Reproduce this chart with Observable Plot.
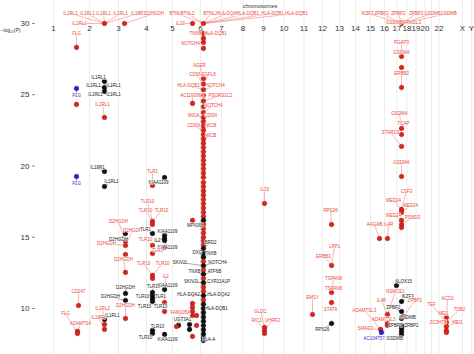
<!DOCTYPE html>
<html><head><meta charset="utf-8">
<script src="https://cdn.jsdelivr.net/npm/d3@7"></script>
<script src="https://cdn.jsdelivr.net/npm/@observablehq/plot@0.6"></script>
<style>body{margin:0;background:#fff}svg{display:block}</style>
</head><body><div id="chart"></div>
<script>
// chromosome tick labels and cumulative start positions (plot genome units)
const chromLabels = ["1","2","3","4","5","6","7","8","9","10","11","12","13","14","15","16","17","18","19","20","22","X","Y"];
const chromStarts = [0,254,458,655,838,1035,1183,1335,1479,1623,1764,1894,2014,2127,2232,2331,2419,2489,2553,2616,2715,2880,2944];
const chr21Start = 2662;
const yTicks = [10,15,20,25,30];

// SNPs: [cumulative position, -log10(P) (capped at 30), group]
const snps = [
 [162,28.32,"r"],[162,25.44,"b"],[162,24.32,"r"],[162,19.26,"b"],[176,10.21,"r"],[169,8.40,"r"],[169,8.25,"r"],
 [359,30,"r"],[359,25.93,"k"],[359,25.51,"k"],[359,25.23,"k"],[359,23.40,"r"],[359,19.61,"k"],[359,18.56,"k"],[359,9.23,"k"],[359,8.88,"r"],[359,8.53,"r"],
 [500,30,"r"],
 [507,15.26,"k"],[507,14.70,"r"],[507,14.42,"r"],[507,13.79,"r"],[507,12.53,"r"],[507,11.05,"k"],[507,10.56,"k"],[507,9.30,"r"],
 [782,19.19,"k"],[697,18.63,"r"],[697,16.11,"r"],[697,15.90,"r"],[697,15.26,"k"],[782,15.12,"k"],[782,14.91,"k"],[782,14.77,"k"],[697,14.42,"r"],[782,14.28,"r"],[697,13.86,"r"],[697,12.32,"r"],[697,12.11,"r"],[782,11.33,"k"],[697,11.12,"k"],[697,10.91,"k"],[697,10.70,"k"],[697,10.49,"k"],[782,10.42,"r"],[782,9.79,"r"],[697,8.46,"k"],[697,8.25,"k"],[782,8.18,"k"],
 [979,30,"r"],[979,24.39,"r"],[979,16.18,"r"],[979,10.35,"r"],[979,10.07,"r"],[979,9.79,"r"],[979,9.51,"r"],[1007,9.51,"r"],[958,8.88,"k"],[958,8.53,"k"],[979,8.04,"r"],[1007,8.81,"r"],[880,8.81,"k"],[866,8.74,"r"],
 [1056,30,"r"],[1056,29.30,"r"],[1056,28.95,"r"],[1056,28.67,"r"],[1056,28.25,"r"],
 [1056,26.14,"r"],[1056,25.75,"r"],[1056,25.35,"r"],[1056,24.95,"r"],[1056,24.55,"r"],[1056,24.15,"r"],[1056,23.75,"r"],[1056,23.40,"r"],[1056,23.10,"r"],[1056,22.80,"r"],[1056,22.50,"r"],[1056,22.20,"r"],[1056,21.90,"r"],[1056,21.60,"r"],[1056,21.30,"r"],[1056,21.00,"r"],[1056,20.70,"r"],[1056,20.40,"r"],[1056,20.10,"r"],[1056,19.80,"r"],[1056,19.50,"r"],[1056,19.20,"r"],
 [1056,18.84,"r"],[1056,18.55,"r"],[1056,18.25,"r"],[1056,17.95,"r"],[1056,17.65,"r"],[1056,17.35,"r"],[1056,17.05,"r"],[1056,16.75,"r"],[1056,16.45,"r"],[1056,16.18,"k"],[1056,15.90,"r"],[1056,15.60,"r"],[1056,15.30,"r"],[1056,15.00,"r"],[1056,14.75,"r"],
 [1056,14.45,"r"],[1056,14.20,"k"],[1056,13.90,"k"],[1056,13.60,"k"],[1056,13.30,"r"],[1056,13.00,"k"],[1056,12.70,"r"],[1056,12.40,"k"],[1056,12.10,"r"],[1056,11.80,"k"],[1056,11.50,"r"],[1056,11.20,"r"],[1056,10.90,"k"],[1056,10.60,"r"],[1056,10.30,"k"],[1056,10.00,"k"],[1056,9.70,"k"],[1056,9.40,"k"],[1056,9.10,"k"],[1056,8.80,"k"],[1056,8.50,"k"],[1056,8.20,"k"],[1056,7.95,"k"],[1056,7.75,"k"],
 [1486,17.37,"r"],[1486,8.67,"r"],[1486,8.46,"r"],[1486,8.25,"r"],
 [1824,9.58,"r"],
 [1958,15.89,"r"],[1958,13.02,"r"],[1958,11.12,"r"],[1958,10.42,"r"],[1958,8.95,"k"],
 [2296,14.91,"r"],[2352,14.91,"r"],[2415,11.61,"k"],[2352,9.58,"r"],[2451,10.49,"k"],[2451,9.79,"k"],[2451,9.30,"k"],[2465,9.44,"r"],[2352,8.95,"r"],[2352,8.81,"r"],[2303,8.53,"r"],[2310,8.32,"b"],[2451,8.81,"k"],[2451,8.60,"k"],[2451,8.39,"k"],[2451,8.18,"k"],
 [2451,30,"r"],[2451,27.68,"r"],[2451,26.91,"r"],[2451,25.51,"r"],[2451,22.63,"r"],[2451,22.21,"r"],[2451,21.37,"r"],[2451,19.26,"r"],[2451,16.95,"r"],[2451,16.74,"r"],[2451,16.18,"r"],[2451,15.89,"r"],[2451,15.68,"r"],
 [2767,9.37,"r"],[2767,9.02,"r"],[2767,8.74,"r"],[2767,8.46,"r"],[2767,8.32,"r"]
];

// gene labels: [gene, label position, label -log10(P), SNP position, SNP -log10(P), group]
const geneLabels = [
 ["IL1RL1",120,30.70,359,30,"r"],["IL1RL1",239,30.70,359,30,"r"],["IL1RL1",352,30.70,359,30,"r"],["IL1RL1",472,30.70,359,30,"r"],["IL18R1",599,30.70,359,30,"r"],["D2HGDH",712,30.70,500,30,"r"],["IL1RL1",183,30.0,359,30,"r"],
 ["IL13",894,30.0,979,30,"r"],
 ["BTNL2",866,30.70,1056,30,"r"],["BTNL2",944,30.70,1056,30,"r"],["BTNL2",1106,30.70,1056,30,"r"],["HLA-DQA1",1225,30.70,1056,30,"r"],["HLA-DQB1",1366,30.70,1056,30,"r"],["HLA-DQB1",1542,30.70,1056,30,"r"],["HLA-DQB1",1711,30.70,1056,30,"r"],
 ["TNXB",1000,29.30,1056,29.30,"r"],["HLA-DQB1",1141,29.30,1056,29.30,"r"],["NOTCH4",965,28.60,1056,28.67,"r"],
 ["IKZF3",2211,30.70,2451,30,"r"],["ZPBP2",2310,30.70,2451,30,"r"],["ZPBP2",2429,30.70,2451,30,"r"],["ZPBP2",2556,30.70,2451,30,"r"],["GSDMB",2669,30.70,2451,30,"r"],["GSDMB",2782,30.70,2451,30,"r"],["GSDMB",2400,30.07,2451,30,"r"],["ORMDL3",2522,30.07,2451,30,"r"],
 ["FLG",162,29.30,162,28.32,"r"],["FLG",162,24.95,162,25.44,"b"],["FLG",162,18.77,162,19.26,"b"],["CD247",176,11.19,176,10.21,"r"],["FLG",85,9.65,169,8.25,"r"],["ADAMTS4",190,8.95,169,8.25,"r"],
 ["IL1RL1",317,26.21,359,25.93,"k"],["IL1RL1",282,25.65,359,25.51,"k"],["IL1RL1",423,25.65,359,25.51,"k"],["IL1RL1",296,25.02,359,25.23,"k"],["IL1RL1",423,25.02,359,25.23,"k"],["IL1RL1",345,24.32,359,23.40,"r"],["IL18R1",310,19.89,359,19.61,"k"],["IL1RL1",408,18.91,359,18.56,"k"],["IL1RL2",345,10.00,359,8.88,"r"],["IL1RL1",415,9.51,359,9.23,"k"],["IL18R1",317,9.37,359,8.53,"r"],
 ["D2HGDH",458,16.11,507,14.70,"r"],["D2HGDH",556,15.47,507,14.42,"r"],["D2HGDH",373,14.56,507,14.42,"r"],["D2HGDH",458,14.84,507,15.26,"k"],["D2HGDH",493,13.44,507,12.53,"r"],["D2HGDH",507,11.47,507,11.05,"k"],["D2HGDH",401,10.84,507,10.56,"k"],["D2HGDH",507,10.21,507,9.30,"r"],
 ["TLR1",697,19.61,697,18.63,"r"],["KIAA1109",739,18.84,782,19.19,"k"],["TLR10",662,17.51,697,16.11,"r"],["TLR10",648,16.88,697,16.11,"r"],["TLR10",761,16.88,697,16.11,"r"],["TLR1",648,15.54,697,15.26,"k"],["KIAA1109",803,15.40,782,15.12,"k"],["IL2",732,14.77,782,14.91,"k"],["TLR10",648,14.84,697,14.42,"r"],["KIAA1109",803,14.28,782,14.77,"k"],["TLR1",732,14.07,697,13.86,"r"],["TLR10",634,13.16,697,12.32,"r"],["TLR10",768,13.16,697,12.32,"r"],["IL2",789,12.25,782,10.42,"r"],["TLR10",704,11.54,697,11.12,"k"],["KIAA1109",803,11.61,782,11.33,"k"],["TLR10",627,10.84,697,10.91,"k"],["TLR1",753,10.84,697,10.70,"k"],["TLR10",641,10.14,697,10.49,"k"],["TLR10",753,10.14,697,10.49,"k"],["TLR10",732,8.74,697,8.46,"k"],["TLR10",648,7.96,697,8.25,"k"],["KIAA1109",803,7.82,782,8.18,"k"],
 ["AC119396.1",979,24.95,979,24.39,"r"],["FAM105A",894,9.72,866,8.74,"r"],["UGT3A1",908,9.23,880,8.81,"k"],["MPIG6B",1000,15.82,1056,16.18,"k"],
 ["AGER",1028,27.05,1056,26.14,"r"],["CDSN",1000,26.42,1056,25.75,"r"],["EGFL8",1092,26.42,1056,25.75,"r"],["HLA-DQB1",951,25.65,1056,25.35,"r"],["NOTCH4",1141,25.65,1056,25.35,"r"],["PSORS1C1",1176,24.95,1056,24.55,"r"],["NOTCH4",1127,24.25,1056,23.75,"r"],["MICA",986,23.54,1056,23.40,"r"],["CDSN",1106,23.54,1056,23.40,"r"],["CDSN",986,22.84,1056,22.50,"r"],["MICB",1106,22.84,1056,22.50,"r"],["MICB",1106,22.14,1056,21.80,"r"],
 ["BRD2",1106,14.63,1056,14.20,"k"],["DXO",1014,13.93,1056,13.60,"k"],["TNXB",1106,13.86,1056,13.60,"k"],["SKIV2L",894,13.23,1056,13.00,"k"],["NOTCH4",1155,13.23,1056,13.00,"k"],["TNXB",993,12.60,1056,12.40,"k"],["ATF6B",1134,12.60,1056,12.40,"k"],["SKIV2L",972,11.89,1056,11.80,"k"],["CYP21A1P",1162,11.89,1056,11.80,"k"],["HLA-DQA2",951,10.98,1056,10.90,"k"],["HLA-DQA2",1162,10.98,1056,10.90,"k"],["HLA-DQB1",1148,10.00,1056,10.00,"k"],["HLA-A",1092,7.82,1056,7.95,"k"],
 ["IL33",1486,18.35,1486,17.37,"r"],["GLDC",1458,9.79,1486,8.67,"r"],["RIC1",1430,9.16,1486,8.46,"r"],["UHRF2",1542,9.16,1486,8.46,"r"],
 ["EMSY",1824,10.77,1824,9.58,"r"],["RPS26",1951,16.88,1958,15.89,"r"],["LRP1",1979,14.35,1958,13.02,"r"],["ERBB3",1901,13.65,1958,13.02,"r"],["TSPAN8",1972,12.11,1958,11.12,"r"],["TSPAN8",1972,11.40,1958,11.12,"r"],["STAT6",1951,9.93,1958,10.42,"r"],["RPS26",1894,8.53,1958,8.95,"k"],
 ["AAGAB",2260,15.89,2296,14.91,"r"],["IL4R",2359,15.89,2352,14.91,"r"],["ALOX15",2465,11.89,2415,11.61,"k"],["NSMCE1",2408,11.19,2352,9.58,"r"],["IL4R",2310,10.56,2352,9.58,"r"],["IKZF3",2493,10.84,2451,10.49,"k"],["ZPBP2",2545,10.56,2465,9.44,"r"],["ADAMTSL3",2190,9.86,2303,8.53,"r"],["ZPBP2",2394,10.07,2451,9.79,"k"],["GSDMB",2493,9.37,2451,9.30,"k"],["ADAMTSL3",2324,9.23,2352,8.95,"r"],["ZPBP2",2408,8.81,2451,8.81,"k"],["SMAD3",2197,8.60,2303,8.53,"r"],["AC104757.3",2272,7.89,2310,8.32,"b"],["GSDMB",2403,7.89,2451,8.18,"k"],["ZPBP2",2520,8.81,2451,8.60,"k"],
 ["PGAP3",2451,28.67,2451,27.68,"r"],["GSDMA",2451,27.96,2451,27.68,"r"],["ERBB2",2451,26.49,2451,25.51,"r"],["GSDMA",2437,23.68,2451,22.63,"r"],["TCAP",2465,22.98,2451,22.63,"r"],["STARD3",2373,22.35,2451,21.37,"r"],["GSDMA",2451,20.25,2451,19.26,"r"],["CSF3",2486,18.21,2451,16.95,"r"],["MED24",2394,17.58,2451,16.95,"r"],["MED24",2514,17.23,2451,16.74,"r"],["MED24",2394,16.53,2451,16.18,"r"],["PSMD3",2528,16.39,2451,15.89,"r"],
 ["ACO2",2775,10.70,2767,9.37,"r"],["TEF",2662,10.28,2767,9.02,"r"],["TOB2",2859,9.93,2767,9.02,"r"],["MEI1",2746,9.65,2767,9.37,"r"],["ZC3H7B",2711,9.02,2767,8.74,"r"],["MEI1",2845,9.02,2767,8.74,"r"]
];

const dotFill = {r:"#d9261c", k:"#111111", b:"#2424d8"};
const dotStroke = {r:"#a8140e", k:"#000000", b:"#1010a0"};
const textFill = {r:"#ea4438", k:"#1a1a1a", b:"#3030d0"};
const lineStroke = {r:"#ee6a60", k:"#555555", b:"#5050d8"};
const labelByStart = new Map(chromStarts.map((s, i) => [s, chromLabels[i]]));

const chart = Plot.plot({
  width: 474, height: 354,
  marginLeft: 35, marginRight: 0, marginTop: 0, marginBottom: 0,
  x: {domain: [-126.8, 2964.8]},
  y: {domain: [6.77, 31.61]},
  style: {fontFamily: "'Liberation Sans', Arial, sans-serif", background: "#fff"},
  marks: [
    Plot.gridX([...chromStarts, chr21Start], {stroke: "#e4e4e4", strokeOpacity: 1, strokeWidth: 0.7}),
    Plot.axisY(yTicks, {tickSize: 3, tickPadding: 3, fontSize: 8, label: null, stroke: "#888", fill: "#333"}),
    Plot.axisX(chromStarts, {anchor: "top", tickSize: 0, tickPadding: 0, tickFormat: d => labelByStart.get(d), fontSize: 8, dy: 30, label: null, fill: "#333"}),
    Plot.text(["chromosomes"], {frameAnchor: "top", dx: 5, dy: 4, fontSize: 5.5, fill: "#333"}),
    Plot.text(["−log₁₀(P)"], {frameAnchor: "top-left", dx: -35, dy: 28, textAnchor: "start", fontSize: 5, fill: "#333"}),
    Plot.link(geneLabels, {x1: d => d[1], y1: d => d[2], x2: d => d[3], y2: d => d[4], stroke: d => lineStroke[d[5]], strokeWidth: 0.5}),
    Plot.dot(snps, {x: d => d[0], y: d => d[1], r: 2.3, fill: d => dotFill[d[2]], stroke: d => dotStroke[d[2]], strokeWidth: 0.5}),
    Plot.text(geneLabels, {x: d => d[1], y: d => d[2], text: d => d[0], fill: d => textFill[d[5]], fontSize: 4.5, stroke: "white", strokeWidth: 0.8, paintOrder: "stroke"})
  ]
});
document.getElementById("chart").append(chart);
</script>
</body></html>
